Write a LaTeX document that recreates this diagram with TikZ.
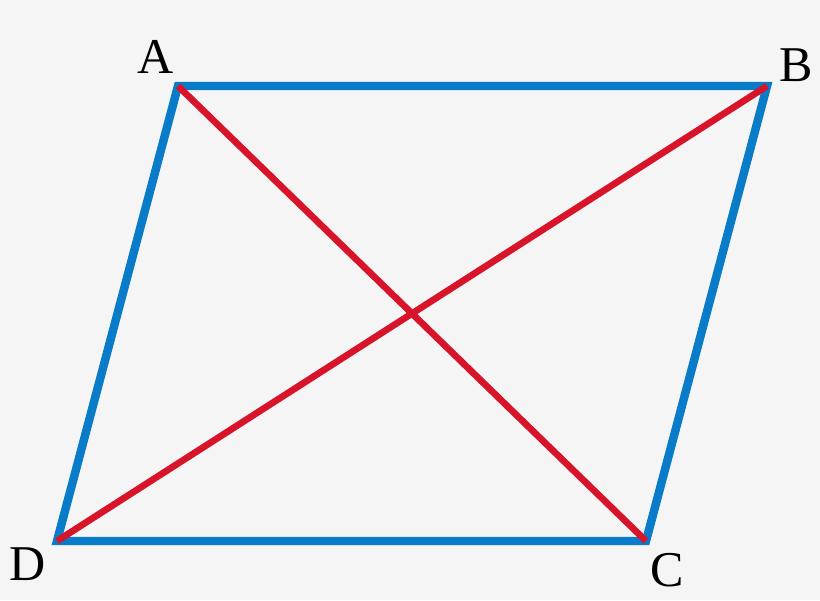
\documentclass[tikz,border=0pt]{standalone}
\usepackage{fontspec}
\setmainfont{Liberation Serif}
\usetikzlibrary{positioning}

\definecolor{sideblue}{RGB}{8,124,200}
\definecolor{diagred}{RGB}{216,20,42}
\definecolor{paper}{RGB}{245,245,245}

\tikzset{
  side/.style={draw=sideblue, line width=4.8pt, line join=miter},
  diag/.style={draw=diagred, line width=3.8pt},
  vlabel/.style={font=\fontsize{28.5}{30}\selectfont, inner sep=0pt}
}

\begin{document}
\begin{tikzpicture}[x=0.02cm, y=-0.02cm]
\fill[paper] (0,0) rectangle (820,600);
\useasboundingbox (0,0) rectangle (820,600);

\coordinate (A) at (178,86);
\coordinate (B) at (767,86);
\coordinate (C) at (646,541);
\coordinate (D) at (57,541);

\node (A_lbl) at (156,57) [vlabel] {A};
\node (B_lbl) at (796,65) [vlabel] {B};
\node (C_lbl) at (667,570) [vlabel] {C};
\node (D_lbl) at (28,564) [vlabel] {D};

\draw [side] (A) -- (B) -- (C) -- (D) -- cycle;

\draw [diag] (A) edge (C);
\draw [diag] (B) edge (D);

\end{tikzpicture}
\end{document}
